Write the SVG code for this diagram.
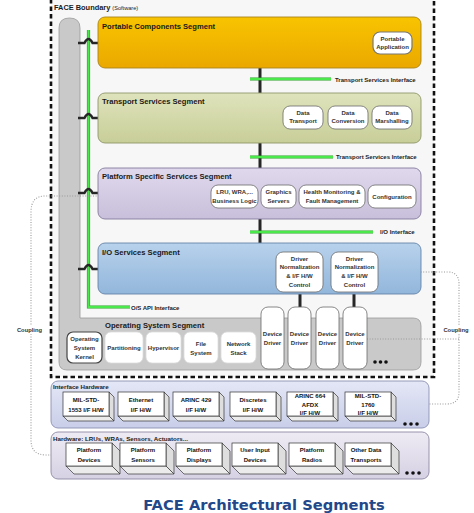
<svg xmlns="http://www.w3.org/2000/svg" width="474" height="513" viewBox="0 0 474 513">
<defs>
<linearGradient id="gPort" x1="0" y1="0" x2="0" y2="1"><stop offset="0" stop-color="#f8c400"/><stop offset="1" stop-color="#eba800"/></linearGradient>
<linearGradient id="gTrans" x1="0" y1="0" x2="0" y2="1"><stop offset="0" stop-color="#dfe3bc"/><stop offset="1" stop-color="#c8ce98"/></linearGradient>
<linearGradient id="gPlat" x1="0" y1="0" x2="0" y2="1"><stop offset="0" stop-color="#e0d9ec"/><stop offset="1" stop-color="#c8bfdb"/></linearGradient>
<linearGradient id="gIO" x1="0" y1="0" x2="0" y2="1"><stop offset="0" stop-color="#b8d2ec"/><stop offset="1" stop-color="#92b6db"/></linearGradient>
<linearGradient id="gIH" x1="0" y1="0" x2="0" y2="1"><stop offset="0" stop-color="#e4e7f6"/><stop offset="1" stop-color="#c9cee9"/></linearGradient>
<linearGradient id="gHW" x1="0" y1="0" x2="0" y2="1"><stop offset="0" stop-color="#eeebf4"/><stop offset="1" stop-color="#d6d1e3"/></linearGradient>
<g id="ihBox">
<polygon points="46,0 51,5 51,29 46,24" fill="#dedede" stroke="#333" stroke-width="0.7"/>
<polygon points="0,24 46,24 51,29 5,29" fill="#ebebeb" stroke="#333" stroke-width="0.7"/>
<rect x="0" y="0" width="46" height="24" fill="#fff" stroke="#333" stroke-width="0.7"/>
</g>
<g id="hwBox">
<polygon points="46,0 54,8 54,31 46,23" fill="#dedede" stroke="#333" stroke-width="0.7"/>
<polygon points="0,23 46,23 54,31 8,31" fill="#ebebeb" stroke="#333" stroke-width="0.7"/>
<rect x="0" y="0" width="46" height="23" fill="#fff" stroke="#333" stroke-width="0.7"/>
</g>
</defs>
<style>
.lbl{font-family:"Liberation Sans",Arial,sans-serif;font-weight:bold;font-size:7.6px;fill:#1a1a1a}
.t{font-family:"Liberation Sans",Arial,sans-serif;font-weight:bold;font-size:6px;fill:#333;text-anchor:middle}
.il{font-family:"Liberation Sans",Arial,sans-serif;font-weight:bold;font-size:6px;fill:#222}
.wb{fill:#fff;stroke:#6a6a6a;stroke-width:0.8}
.cp{fill:none;stroke:#9a9a9a;stroke-width:1.1;stroke-dasharray:1 1.6}
.bar{stroke:#262626;stroke-width:3;fill:none}
.grn{stroke:#4be84b;stroke-width:2;fill:none}
.grnO{stroke:#24a024;stroke-width:3.2;fill:none}
.dot{fill:#111}
</style>
<rect width="474" height="513" fill="#fff"/>

<g id="face-boundary">
<rect x="51" y="-6" width="383" height="383" fill="#f7f7f7" stroke="#111" stroke-width="2.6" stroke-dasharray="4.5 3"/>
<text x="54" y="9.5" class="lbl" style="font-size:7.4px">FACE Boundary <tspan style="font-size:5.6px;font-weight:normal">(Software)</tspan></text>
</g>

<g id="os-segment">
<path d="M59,28 Q59,18 69.5,18 Q80,18 80,28 V318 H413 Q421,318 421,326 V362 Q421,370 413,370 H67 Q59,370 59,362 Z" fill="#c9c9c9" stroke="#9a9a9a" stroke-width="0.8"/>
<text x="105" y="328" class="lbl">Operating System Segment</text>
<rect x="67" y="332" width="35" height="31" rx="6" class="wb" style="stroke:#444;stroke-width:1.2"/>
<text class="t"><tspan x="84.5" y="341">Operating</tspan><tspan x="84.5" y="350">System</tspan><tspan x="84.5" y="358.5">Kernel</tspan></text>
<rect x="105" y="332" width="38" height="31" rx="6" class="wb" style="stroke:#ddd"/>
<text x="124" y="350" class="t">Partitioning</text>
<rect x="146" y="332" width="35" height="31" rx="6" class="wb" style="stroke:#ddd"/>
<text x="163.5" y="350" class="t">Hypervisor</text>
<rect x="184" y="332" width="34" height="31" rx="6" class="wb" style="stroke:#ddd"/>
<text class="t"><tspan x="201" y="345.5">File</tspan><tspan x="201" y="354.5">System</tspan></text>
<rect x="221" y="332" width="35" height="31" rx="6" class="wb" style="stroke:#ddd"/>
<text class="t"><tspan x="238.5" y="345.5">Network</tspan><tspan x="238.5" y="354.5">Stack</tspan></text>
<circle cx="375" cy="362" r="1.8" class="dot"/><circle cx="380.5" cy="362" r="1.8" class="dot"/><circle cx="386" cy="362" r="1.8" class="dot"/>
</g>

<g id="connectors">
<path d="M260,68 V93 M260,143 V168 M260,219 V243 M300,292 V308 M354,292 V308" class="bar"/>
<path d="M250,79 H331 M250,157 H333 M250,232 H373" class="grnO"/>
<path d="M250,79 H331 M250,157 H333 M250,232 H373" class="grn"/>
<path d="M88.5,30 V307 H130" class="grnO"/>
<path d="M88.5,30 V307 H130" class="grn"/>
<path d="M78,43 H84.5 C85.5,41 86.5,39 88.5,39 C90.5,39 91.5,41 92.5,43 H99 M78,118 H84.5 C85.5,116 86.5,114 88.5,114 C90.5,114 91.5,116 92.5,118 H99 M78,193 H84.5 C85.5,191 86.5,189 88.5,189 C90.5,189 91.5,191 92.5,193 H99 M78,269 H84.5 C85.5,267 86.5,265 88.5,265 C90.5,265 91.5,267 92.5,269 H99" fill="none" stroke="#262626" stroke-width="2.4"/>
<text x="335" y="82" class="il">Transport Services Interface</text>
<text x="336" y="159" class="il">Transport Services Interface</text>
<text x="380" y="234" class="il">I/O Interface</text>
<text x="131" y="310" class="il">O/S API Interface</text>
<path d="M211,196 H45 Q31,196 31,212 V440 Q31,455 46,455 H66" class="cp"/>
<path d="M379,272 H448 Q459,272 459,284 V392 Q459,404 447,404 H397 M367,339 H459" class="cp"/>
<rect x="15" y="325" width="29" height="9" fill="#fff"/>
<text x="29.5" y="332" class="il" style="text-anchor:middle;fill:#333;font-size:5.8px">Coupling</text>
<rect x="441" y="325" width="30" height="9" fill="#fff"/>
<text x="456" y="332" class="il" style="text-anchor:middle;fill:#333;font-size:5.8px">Coupling</text>
</g>

<g id="portable-components-segment">
<rect x="98" y="17" width="323" height="51" rx="7" fill="url(#gPort)" stroke="#a8831c" stroke-width="0.9"/>
<text x="102" y="29" class="lbl">Portable Components Segment</text>
<rect x="373" y="32" width="39" height="22" rx="7" class="wb" style="stroke:#777;stroke-width:1.2"/>
<text class="t"><tspan x="392.5" y="40.5">Portable</tspan><tspan x="392.5" y="49">Application</tspan></text>
</g>

<g id="transport-services-segment">
<rect x="98" y="93" width="323" height="50" rx="7" fill="url(#gTrans)" stroke="#8f966a" stroke-width="0.9"/>
<text x="102" y="104" class="lbl">Transport Services Segment</text>
<rect x="283" y="106" width="40" height="23" rx="7" class="wb"/>
<text class="t"><tspan x="303" y="114.5">Data</tspan><tspan x="303" y="123">Transport</tspan></text>
<rect x="328" y="106" width="40" height="23" rx="7" class="wb"/>
<text class="t"><tspan x="348" y="114.5">Data</tspan><tspan x="348" y="123">Conversion</tspan></text>
<rect x="372" y="106" width="40" height="23" rx="7" class="wb"/>
<text class="t"><tspan x="392" y="114.5">Data</tspan><tspan x="392" y="123">Marshalling</tspan></text>
</g>

<g id="platform-specific-services-segment">
<rect x="98" y="168" width="323" height="51" rx="7" fill="url(#gPlat)" stroke="#857c9c" stroke-width="0.9"/>
<text x="102" y="179" class="lbl">Platform Specific Services Segment</text>
<rect x="211" y="185" width="47" height="23" rx="7" class="wb"/>
<text class="t"><tspan x="234.5" y="194">LRU, WRA,...</tspan><tspan x="234.5" y="202.5">Business Logic</tspan></text>
<rect x="261" y="185" width="35" height="23" rx="7" class="wb"/>
<text class="t"><tspan x="278.5" y="194">Graphics</tspan><tspan x="278.5" y="202.5">Servers</tspan></text>
<rect x="299" y="185" width="66" height="23" rx="7" class="wb"/>
<text class="t"><tspan x="332" y="194">Health Monitoring  &amp;</tspan><tspan x="332" y="202.5">Fault Management</tspan></text>
<rect x="368" y="185" width="48" height="23" rx="7" class="wb"/>
<text x="392" y="198.5" class="t">Configuration</text>
</g>

<g id="io-services-segment">
<rect x="98" y="243" width="323" height="51" rx="7" fill="url(#gIO)" stroke="#6583a8" stroke-width="0.9"/>
<text x="102" y="254.5" class="lbl">I/O Services Segment</text>
<rect x="276" y="252" width="47" height="40" rx="7" class="wb"/>
<text class="t"><tspan x="299.5" y="260.5">Driver</tspan><tspan x="299.5" y="269">Normalization</tspan><tspan x="299.5" y="278">&amp; I/F H/W</tspan><tspan x="299.5" y="286.5">Control</tspan></text>
<rect x="331" y="252" width="47" height="40" rx="7" class="wb"/>
<text class="t"><tspan x="354.5" y="260.5">Driver</tspan><tspan x="354.5" y="269">Normalization</tspan><tspan x="354.5" y="278">&amp; I/F H/W</tspan><tspan x="354.5" y="286.5">Control</tspan></text>
</g>

<g id="device-drivers">
<rect x="261" y="307" width="23" height="62" rx="7" class="wb"/>
<rect x="288" y="307" width="23" height="62" rx="7" class="wb"/>
<rect x="316" y="307" width="23" height="62" rx="7" class="wb"/>
<rect x="343" y="307" width="24" height="62" rx="7" class="wb"/>
<text class="t"><tspan x="272.5" y="336">Device</tspan><tspan x="272.5" y="345">Driver</tspan></text>
<text class="t"><tspan x="299.5" y="336">Device</tspan><tspan x="299.5" y="345">Driver</tspan></text>
<text class="t"><tspan x="327.5" y="336">Device</tspan><tspan x="327.5" y="345">Driver</tspan></text>
<text class="t"><tspan x="355" y="336">Device</tspan><tspan x="355" y="345">Driver</tspan></text>
</g>

<g id="interface-hardware">
<rect x="51" y="381" width="378" height="47" rx="7" fill="url(#gIH)" stroke="#8a90b2" stroke-width="0.9"/>
<text x="53" y="388.5" class="il" style="font-size:6.2px">Interface Hardware</text>
<use href="#ihBox" x="63" y="392"/>
<use href="#ihBox" x="118" y="392"/>
<use href="#ihBox" x="173" y="392"/>
<use href="#ihBox" x="230" y="392"/>
<use href="#ihBox" x="287" y="392"/>
<use href="#ihBox" x="345" y="392"/>
<text class="t" style="fill:#111"><tspan x="86" y="402">MIL-STD-</tspan><tspan x="86" y="411.5">1553 I/F H/W</tspan></text>
<text class="t" style="fill:#111"><tspan x="141" y="402">Ethernet</tspan><tspan x="141" y="411.5">I/F H/W</tspan></text>
<text class="t" style="fill:#111"><tspan x="196" y="402">ARINC 429</tspan><tspan x="196" y="411.5">I/F H/W</tspan></text>
<text class="t" style="fill:#111"><tspan x="253" y="402">Discretes</tspan><tspan x="253" y="411.5">I/F H/W</tspan></text>
<text class="t" style="fill:#111"><tspan x="310" y="398">ARINC 664</tspan><tspan x="310" y="406.5">AFDX</tspan><tspan x="310" y="415">I/F H/W</tspan></text>
<text class="t" style="fill:#111"><tspan x="368" y="398">MIL-STD-</tspan><tspan x="368" y="406.5">1760</tspan><tspan x="368" y="415">I/F H/W</tspan></text>
<circle cx="405" cy="424" r="1.8" class="dot"/><circle cx="411" cy="424" r="1.8" class="dot"/><circle cx="417" cy="424" r="1.8" class="dot"/>
</g>

<g id="hardware">
<rect x="51" y="432" width="378" height="47" rx="7" fill="url(#gHW)" stroke="#8e89a4" stroke-width="0.9"/>
<text x="53" y="440.5" class="il" style="font-size:6.2px">Hardware: LRUs, WRAs, Sensors, Actuators...</text>
<use href="#hwBox" x="66" y="443"/>
<use href="#hwBox" x="120" y="443"/>
<use href="#hwBox" x="176" y="443"/>
<use href="#hwBox" x="232" y="443"/>
<use href="#hwBox" x="289" y="443"/>
<use href="#hwBox" x="345" y="443"/>
<text class="t" style="fill:#111"><tspan x="89" y="452">Platform</tspan><tspan x="89" y="461.5">Devices</tspan></text>
<text class="t" style="fill:#111"><tspan x="143" y="452">Platform</tspan><tspan x="143" y="461.5">Sensors</tspan></text>
<text class="t" style="fill:#111"><tspan x="199" y="452">Platform</tspan><tspan x="199" y="461.5">Displays</tspan></text>
<text class="t" style="fill:#111"><tspan x="255" y="452">User Input</tspan><tspan x="255" y="461.5">Devices</tspan></text>
<text class="t" style="fill:#111"><tspan x="312" y="452">Platform</tspan><tspan x="312" y="461.5">Radios</tspan></text>
<text class="t" style="fill:#111"><tspan x="366" y="452">Other Data</tspan><tspan x="366" y="461.5">Transports</tspan></text>
<circle cx="407" cy="473" r="1.8" class="dot"/><circle cx="413" cy="473" r="1.8" class="dot"/><circle cx="419" cy="473" r="1.8" class="dot"/>
</g>

<g id="caption">
<text x="264" y="510" style="font-family:'DejaVu Sans',Verdana,sans-serif;font-weight:bold;font-size:14.7px;fill:#23488a;text-anchor:middle">FACE Architectural Segments</text>
</g>
</svg>
